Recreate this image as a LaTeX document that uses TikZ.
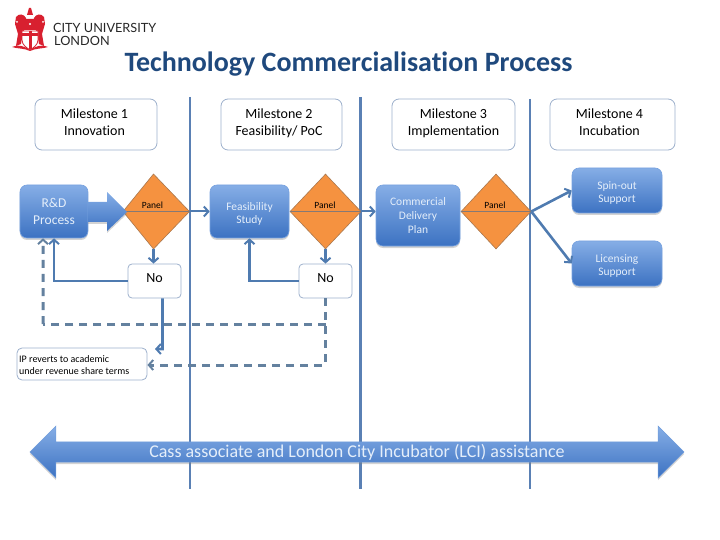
\documentclass[tikz,border=0pt]{standalone}
\usepackage{fontspec}
\setmainfont{Carlito}[Ligatures=NoCommon]
\newfontfamily\logofont{Lato}
\usetikzlibrary{shapes.geometric,shapes.arrows,shadows,arrows.meta}
\definecolor{linkblue}{HTML}{4F7BB0}
\definecolor{dashblue}{HTML}{64819F}
\definecolor{vlineblue}{HTML}{5A80B4}
\definecolor{edgeblue}{HTML}{9DB0CC}
\definecolor{toplight}{HTML}{86AEE6}
\definecolor{botdark}{HTML}{3C72C2}
\definecolor{boxtext}{HTML}{E4EEFA}
\definecolor{panelorange}{HTML}{F59240}
\definecolor{paneledge}{HTML}{A9784F}
\definecolor{titleblue}{HTML}{1F497D}
\definecolor{crestred}{HTML}{D8202F}
\newcommand{\fsz}[1]{\fontsize{#1bp}{1.2\dimexpr#1bp\relax}\selectfont}
\newcommand{\lowerby}[1]{\rule{0pt}{#1}}
\newcommand{\raiseby}[1]{\rule[-#1]{0pt}{0pt}}
\newcommand{\toleft}[1]{\hspace*{#1}}
\tikzset{
  x=1bp,y=-1bp,
  softshadow/.style={drop shadow={opacity=.35,shadow xshift=0bp,shadow yshift=-2bp}},
  milestone/.style={draw=edgeblue,line width=.8bp,fill=white,rounded corners=7bp,align=center,inner sep=0pt,font=\fsz{14},text=black,minimum width=#1,minimum height=51bp},
  bluebox/.style={rectangle,rounded corners=7bp,top color=toplight,bottom color=botdark,draw=toplight!80!botdark,line width=.6bp,align=center,inner sep=0pt,text=boxtext,softshadow},
  panel/.style={diamond,draw=paneledge,line width=.6bp,fill=panelorange,inner sep=0pt,minimum width=#1,minimum height=75bp},
  panellabel/.style={font=\fsz{9.5},text=black,inner sep=0pt},
  nobox/.style={draw=edgeblue,line width=.8bp,fill=white,rounded corners=4bp,inner sep=0pt,minimum width=53bp,minimum height=34bp,font=\fsz{14},text=black},
  vline/.style={draw=vlineblue,line width=2.8bp},
  link/.style={draw=linkblue,line width=2.6bp,-{Straight Barb[length=4.5bp,width=10bp,line width=2bp]}},
  dlink/.style={draw=dashblue,line width=3bp,dash pattern=on 8bp off 6bp,-{Straight Barb[length=4.5bp,width=10bp,line width=2bp,sep=0pt]}},
  dplain/.style={draw=dashblue,line width=3bp,dash pattern=on 8bp off 6bp},
  thinlink/.style={draw=paneledge!60!linkblue,line width=1bp},
}
\begin{document}
\begin{tikzpicture}
\useasboundingbox (0,0) rectangle (720,540);
% logo
\begin{scope}
\fill[crestred] (29,8) -- (31,8) -- (33,15) -- (27,15) -- cycle;
\fill[crestred] (16,17) .. controls (19,13) and (24,14) .. (26,18) -- (27,24) -- (23,33) -- (21,44) -- (16,46) -- (18,34) -- (15,24) -- cycle;
\fill[crestred] (44,17) .. controls (41,13) and (36,14) .. (34,18) -- (33,24) -- (37,33) -- (39,44) -- (44,46) -- (42,34) -- (45,24) -- cycle;
\fill[crestred] (24,19) -- (36,19) -- (38,30) -- (22,30) -- cycle;
\fill[crestred] (12,47) .. controls (18,44) and (24,46) .. (30,50) .. controls (36,46) and (42,44) .. (48,47) .. controls (42,49) and (36,48) .. (30,51) .. controls (24,48) and (18,49) .. (12,47) -- cycle;
\fill[white,draw=crestred,line width=.8bp] (22,31) -- (38,31) -- (38,40) .. controls (38,45) and (33,48) .. (30,50) .. controls (27,48) and (22,45) .. (22,40) -- cycle;
\fill[crestred] (28.5,31) rectangle (31.5,49);
\fill[crestred] (22,33) rectangle (38,36);
\fill[white] (17,22) circle (1) (43,22) circle (1) (30,24) circle (1.2);
\end{scope}
\node[anchor=west,inner sep=0pt,text=black!85] (logoa) at (53,28) {\logofont\fsz{12.7}CITY UNIVERSITY};
\node[anchor=west,inner sep=0pt,text=black!85] (logob) at (54,41) {\logofont\fsz{12.7}LONDON};
% title
\node[inner sep=0pt,text=titleblue] (title) at (348.5,64) {\fsz{28}\bfseries Technology Commercialisation Process};
% vertical lines
\coordinate (v1t) at (190,97); \coordinate (v1b) at (190,489);
\coordinate (v2t) at (360.5,97); \coordinate (v2b) at (360.5,489);
\coordinate (v3t) at (530,99); \coordinate (v3b) at (530,489);
\draw[vline] (v1t) -- (v1b);
\draw[vline] (v2t) -- (v2b);
\draw[vline] (v3t) -- (v3b);
% milestones
\node[milestone=122bp] (m1) at (96,124.5) {Milestone 1\toleft{3bp}\\Innovation\toleft{3bp}\raiseby{5bp}};
\node[milestone=121bp] (m2) at (281.5,124.5) {Milestone 2\toleft{5bp}\\Feasibility/ PoC\toleft{5bp}\raiseby{5bp}};
\node[milestone=123bp] (m3) at (453.5,124.5) {Milestone 3\\Implementation\raiseby{5bp}};
\node[milestone=125bp] (m4) at (612.5,124.5) {Milestone 4\toleft{6bp}\\Incubation\toleft{6bp}\raiseby{5bp}};
% panels
\coordinate (d1w) at (123,211.5); \coordinate (d1n) at (153.5,174);
\coordinate (d1e) at (189.5,211.5); \coordinate (d1s) at (153.5,249);
\draw[draw=paneledge,line width=.6bp,fill=panelorange] (d1w) -- (d1n) -- (d1e) -- (d1s) -- cycle;
\node[panel=71bp] (d2) at (325.5,211.5) {};
\node[panel=70bp] (d3) at (496,211.5) {};
% boxes
\node[bluebox,minimum width=68bp,minimum height=53bp,font=\fsz{13.5}] (rd) at (54,211.5) {R\&D\\Process};
\node[bluebox,minimum width=79bp,minimum height=53bp,font=\fsz{11.5}] (fs) at (249.5,211.5) {\lowerby{13bp}Feasibility\\Study};
\node[bluebox,minimum width=84bp,minimum height=61bp,font=\fsz{11.5}] (cd) at (418,215.5) {Commercial\\Delivery\\Plan};
\node[bluebox,minimum width=90bp,minimum height=45bp,font=\fsz{11.5}] (so) at (617,190.5) {\lowerby{13bp}Spin-out\\Support};
\node[bluebox,minimum width=90bp,minimum height=45bp,font=\fsz{11.5}] (ls) at (617,263.5) {\lowerby{13bp}Licensing\\Support};
\node[nobox] (no1) at (154.5,281) {No\raiseby{6bp}};
\node[nobox] (no2) at (325.5,281) {No\raiseby{6bp}};
\node[draw=edgeblue,line width=.8bp,fill=white,rounded corners=5bp,inner sep=0pt,minimum width=130bp,minimum height=32bp] (ip) at (82,364) {};
\node[anchor=west,inner sep=0pt,align=left,font=\fontsize{10bp}{12.5bp}\selectfont,text=black] (iptext) at (19,365) {IP reverts to academic\\under revenue share terms};
% panel centre lines and labels
\draw[thinlink] (d1w) -- (d1e);
\draw[thinlink] (d2.west) -- (d2.east);
\draw[thinlink] (d3.west) -- (d3.east);
\node[panellabel] (p1) at (152.5,205.5) {Panel};
\node[panellabel] (p2) at (325,205.5) {Panel};
\node[panellabel] (p3) at (495,205.5) {Panel};
% block arrow
\path[top color=toplight,bottom color=botdark,softshadow] (88,202) -- (107,202) -- (107,192) -- (127,212) -- (107,231) -- (107,222) -- (88,222) -- cycle;
% links
\draw[link,line width=2bp] (d1e) -- (fs.west);
\draw[link,line width=2bp] (d2.east) -- (d2.east -| cd.west);
\draw[link] (d3.east) -- (so.west);
\draw[link] (d3.east) -- (ls.west);
\draw[link] (d1s) -- (d1s |- no1.north);
\draw[link] (d2.south) -- (no2.north);
\draw[link] (no1.west) -| (rd.south);
\draw[link] (no2.west) -| (fs.south);
\coordinate (ipdrop) at (162.5,349);
\coordinate (iptip) at (155,349);
\draw[link] ([xshift=8bp]no1.south) -- (ipdrop) -- (iptip);
% dashed returns
\coordinate (dc) at (325.5,324);
\coordinate (dd) at (43,324);
\coordinate (de) at (325.5,365);
\draw[dlink] (no2.south) -- (de) -- (ip.east |- de);
\draw[dplain] (dc) -- (dd);
\draw[dlink] (dd) -- ([xshift=-11bp]rd.south);
% big arrow
\node[double arrow,double arrow head extend=13bp,double arrow tip angle=90,minimum width=52bp,minimum height=654bp,inner sep=0pt,top color=toplight,bottom color=botdark,draw=toplight!70!botdark,line width=.5bp,softshadow,text=boxtext,font=\fsz{18}] (cass) at (357,452) {Cass associate and London City Incubator (LCI) assistance};
\end{tikzpicture}
\end{document}
